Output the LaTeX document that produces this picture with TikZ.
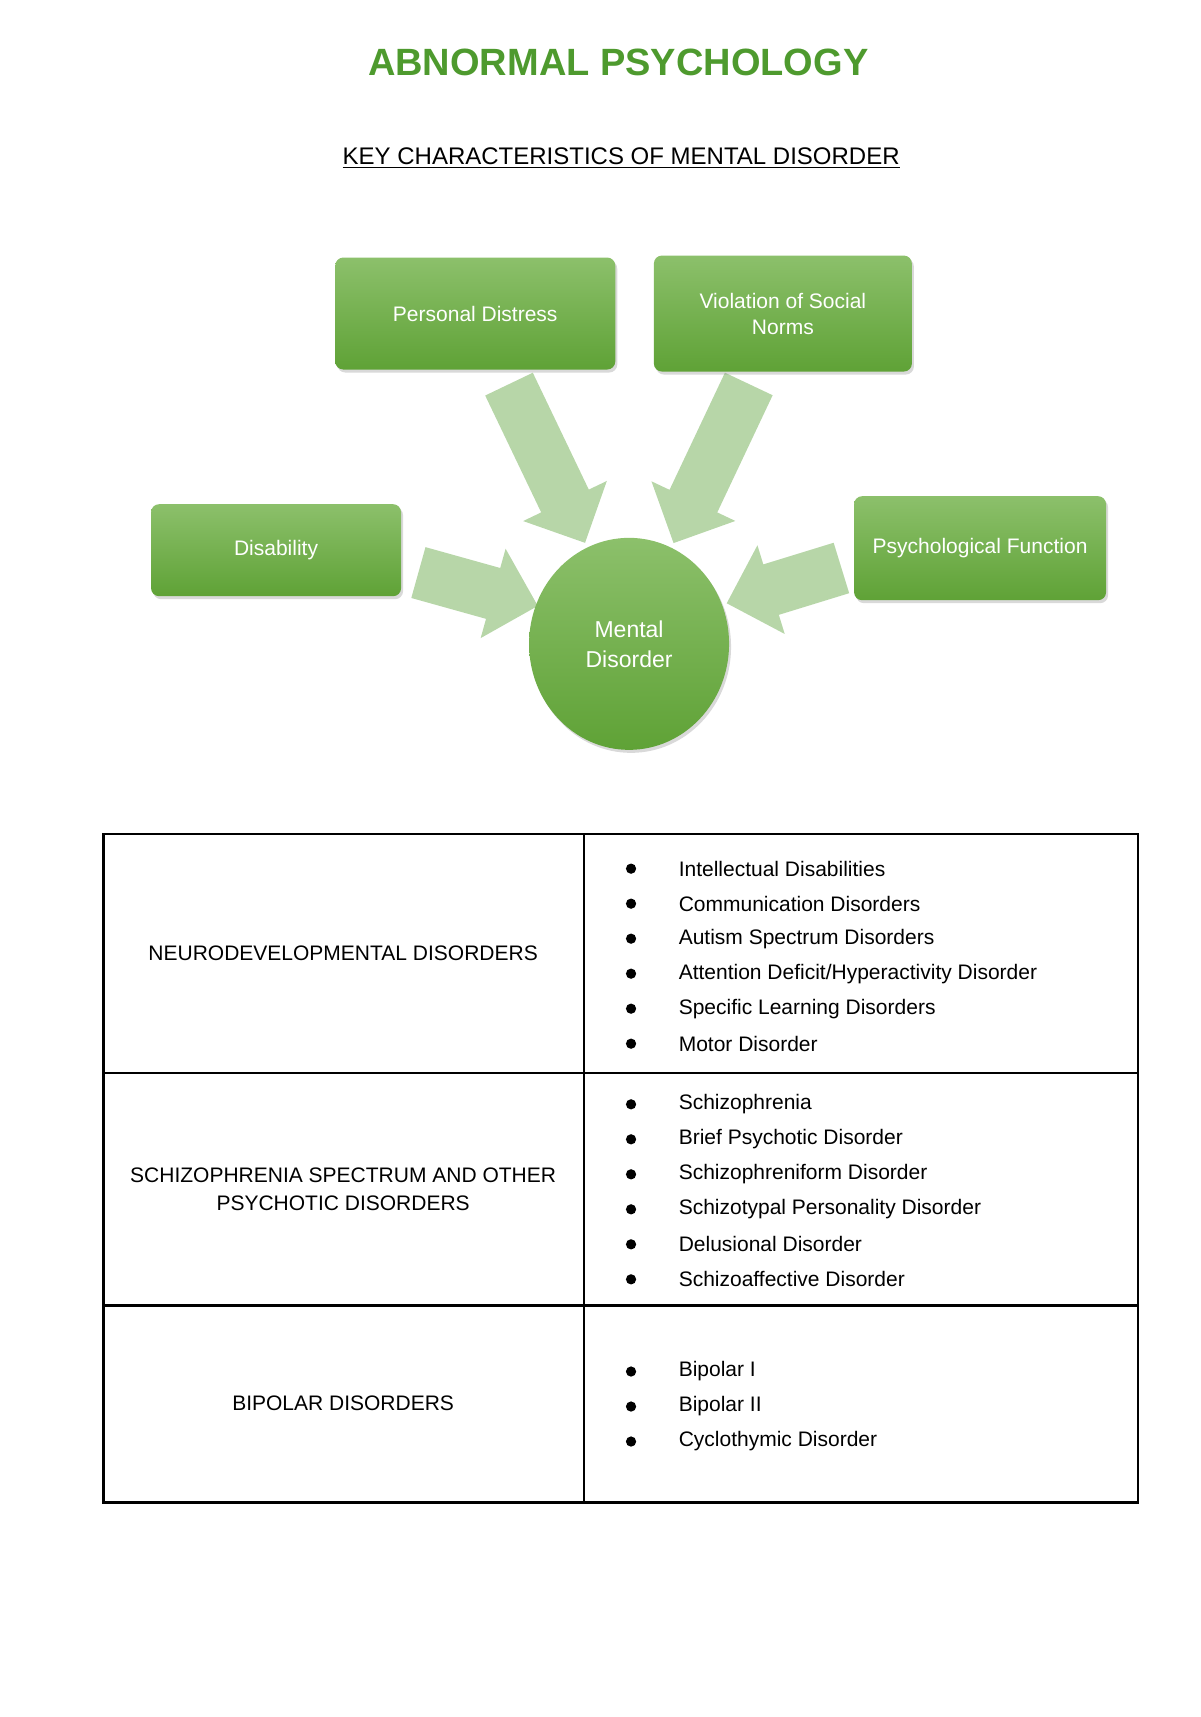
\documentclass[tikz,border=0pt]{standalone}
\usepackage{fontspec}
\setmainfont{Liberation Sans}
\usetikzlibrary{shapes.arrows,shapes.geometric,shadows}
\definecolor{gtop}{HTML}{8CC06B}
\definecolor{gbot}{HTML}{5FA236}
\definecolor{arr}{HTML}{B7D6A8}
\definecolor{ttl}{HTML}{4E9A2E}
\begin{document}
\begin{tikzpicture}[x=0.5pt,y=-0.5pt,
 box/.style={rectangle,rounded corners=4pt,top color=gtop,bottom color=gbot,draw=none,
   drop shadow={opacity=0.3,shadow xshift=1pt,shadow yshift=-1.5pt},text=white,align=center,font=\fontsize{10.5}{13}\selectfont},
 blk/.style={single arrow,fill=arr,draw=none,inner sep=13pt,single arrow head extend=10pt,single arrow tip angle=90,minimum height=#1},
 cell/.style={font=\fontsize{10.5}{14}\selectfont,align=center},
 item/.style={font=\fontsize{10.5}{14}\selectfont,anchor=west,inner sep=0pt}]
\useasboundingbox (0,0) rectangle (1200,1717);
\begin{scope}[scale=0.986]
\node[font=\fontsize{19}{22}\selectfont\bfseries,text=ttl] (title) at (627,63) {ABNORMAL PSYCHOLOGY};
\node[font=\fontsize{12}{14}\selectfont] (sub) at (630,160) {\underline{KEY CHARACTERISTICS OF MENTAL DISORDER}};
% arrows
\node[blk=88pt,rotate=-64.4] (a1) at (549,458) {};
\node[blk=88pt,rotate=-115.3] (a2) at (727,458) {};
\node[blk=62pt,rotate=-15.6] (a3) at (472,594) {};
\node[blk=60pt,rotate=-162.9] (a4) at (808,590) {};
% boxes
\node[box,minimum width=140pt,minimum height=56pt] (pd) at (482,318) {Personal Distress};
\node[box,minimum width=129pt,minimum height=58pt] (vsn) at (794,318) {Violation of Social\\Norms};
\node[box,minimum width=125pt,minimum height=46pt] (dis) at (280,558) {Disability};
\node[box,minimum width=126pt,minimum height=52pt] (pf) at (994,556) {Psychological Function};
\node[ellipse,minimum width=100pt,minimum height=106pt,inner sep=0pt,top color=gtop,bottom color=gbot,
   drop shadow={opacity=0.3,shadow xshift=1pt,shadow yshift=-1.5pt},text=white,align=center,font=\fontsize{11.5}{15}\selectfont] (md) at (638,653) {Mental\\Disorder};
% table
\draw[line width=1.2pt] (105,846) rectangle (1154,1524);
\draw[line width=1.2pt] (592,846) -- (592,1524);
\draw[line width=1.2pt] (105,1088) -- (1154,1088);
\draw[line width=1.2pt] (105,1324) -- (1154,1324);
\node[cell] (c1) at (348,967) {NEURODEVELOPMENTAL DISORDERS};
\node[cell] (c2) at (348,1206) {SCHIZOPHRENIA SPECTRUM AND OTHER\\PSYCHOTIC DISORDERS};
\node[cell] (c3) at (348,1423) {BIPOLAR DISORDERS};
\foreach \t [count=\i] in {Intellectual Disabilities,Communication Disorders,Autism Spectrum Disorders,Attention Deficit/Hyperactivity Disorder,Specific Learning Disorders,Motor Disorder}{
 \node[item] (n\i) at (688,{881+35.5*(\i-1)}) {\t};
 \fill (640,{881+35.5*(\i-1)}) circle (2.6pt);}
\foreach \t [count=\i] in {Schizophrenia,Brief Psychotic Disorder,Schizophreniform Disorder,Schizotypal Personality Disorder,Delusional Disorder,Schizoaffective Disorder}{
 \node[item] (s\i) at (688,{1120+35.5*(\i-1)}) {\t};
 \fill (640,{1120+35.5*(\i-1)}) circle (2.6pt);}
\foreach \t [count=\i] in {Bipolar I,Bipolar II,Cyclothymic Disorder}{
 \node[item] (b\i) at (688,{1391+35.5*(\i-1)}) {\t};
 \fill (640,{1391+35.5*(\i-1)}) circle (2.6pt);}
\end{scope}
\end{tikzpicture}
\end{document}
